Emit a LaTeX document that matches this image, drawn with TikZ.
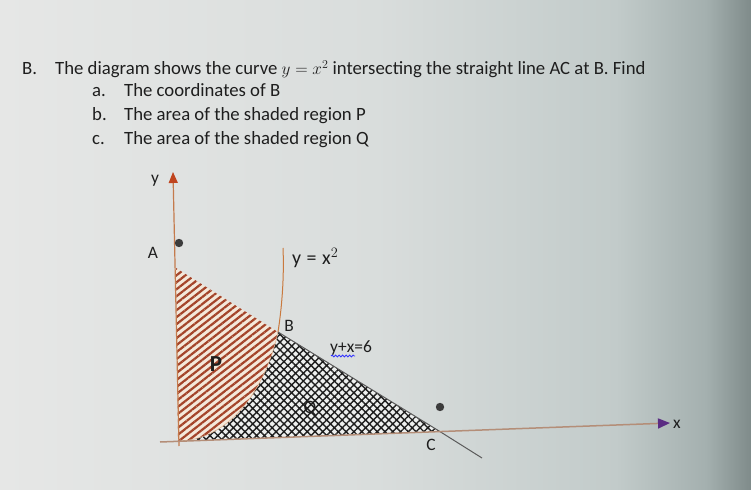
\documentclass[tikz,border=0pt]{standalone}
\usepackage{fontspec}
\setmainfont{Carlito}
\usetikzlibrary{arrows.meta,patterns.meta,decorations.pathmorphing}

\definecolor{bgA}{HTML}{E6E7E6}
\definecolor{bgB}{HTML}{D9DDDC}
\definecolor{bgC}{HTML}{C2CBCA}
\definecolor{bgD}{HTML}{A4B0AF}
\definecolor{bgE}{HTML}{7F8B8A}
\definecolor{axisbrown}{HTML}{B48E78}
\definecolor{yaxisorange}{HTML}{C47A4C}
\definecolor{arrowred}{HTML}{C0441E}
\definecolor{arrowpurple}{HTML}{5B2C83}
\definecolor{stripe}{HTML}{A4442A}
\definecolor{cream}{HTML}{F4E8DA}
\definecolor{curveorange}{HTML}{C9793E}
\definecolor{lineg}{HTML}{5A5A5A}
\definecolor{hatchbg}{HTML}{EEF0EF}
\definecolor{dotgrey}{HTML}{3C3C3C}
\definecolor{inkblack}{HTML}{1E1E1E}

\pgfdeclarehorizontalshading{screenbg}{100bp}{color(0bp)=(bgA); color(25bp)=(bgA); color(50bp)=(bgB); color(66bp)=(bgC); color(72bp)=(bgD); color(75bp)=(bgE); color(100bp)=(bgE)}

\begin{document}
\begin{tikzpicture}[x=1bp,y=-1bp,
  qtext/.style={anchor=base west,inner sep=0pt,font=\fontsize{18.8}{22}\selectfont,text=inkblack},
  lbl/.style={inner sep=0pt,font=\fontsize{17.5}{20}\selectfont,text=inkblack},
  dotpt/.style={fill=dotgrey}]
\shade[shading=screenbg] (0,0) rectangle (751,490);
\useasboundingbox (0,0) rectangle (751,490);

% question text
\path (22,75) node[qtext] (qB) {B.};
\path (55,75) node[qtext] (qline) {The diagram shows the curve $y = x^2$ intersecting the straight line AC at B. Find};
\path (92,97) node[qtext] (qa) {a.};
\path (124,97) node[qtext] (qaT) {The coordinates of B};
\path (92,121) node[qtext] (qb) {b.};
\path (124,121) node[qtext] (qbT) {The area of the shaded region P};
\path (92,145) node[qtext] (qc) {c.};
\path (124,145) node[qtext] (qcT) {The area of the shaded region Q};

% points of the graph
\coordinate (O) at (178,441);
\coordinate (A) at (176,268);
\coordinate (B) at (278,332);
\coordinate (C) at (440,431.6);
\coordinate (Cend) at (482,458);
\coordinate (Ctop) at (283,248);
\coordinate (ybot) at (179,446);
\coordinate (ytop) at (173,172);
\coordinate (xleft) at (160,442);
\coordinate (xright) at (670,423);

% region P
\fill[cream] (A) -- (B) .. controls (268,380) and (235,440) .. (O) -- cycle;
\fill[pattern={Lines[angle=38,distance=5.5bp,line width=2.2bp]},pattern color=stripe]
  (A) -- (B) .. controls (268,380) and (235,440) .. (O) -- cycle;
% region Q
\fill[hatchbg] (B) -- (C) -- (O) .. controls (235,440) and (268,380) .. (B);
\fill[pattern={Hatch[angle=45,distance=5.5bp,line width=1.4bp]},pattern color=inkblack]
  (B) -- (C) -- (O) .. controls (235,440) and (268,380) .. (B);

% curve and line
\draw[curveorange!60,line width=0.5bp] (O) .. controls (235,440) and (268,380) .. (B);
\draw[curveorange,line width=1bp] (B) .. controls (283,300) and (284,270) .. (Ctop);
\draw[lineg,line width=1bp] (B) -- (C) -- (Cend);

% axes
\draw[yaxisorange,line width=1.2bp,-{Triangle[length=11bp,width=9bp,fill=arrowred,color=arrowred]}] (ybot) -- (ytop);
\draw[axisbrown,line width=1.5bp,-{Triangle[length=12bp,width=10bp,fill=arrowpurple,color=arrowpurple]}] (xleft) -- (xright);

% dots
\fill[dotpt] (179,243) circle (4.2);
\fill[dotpt] (440,407) circle (4.2);

% labels
\path (155,181) node[lbl] (ly) {y};
\path (153,253) node[lbl] (lA) {A};
\path (289,326) node[lbl] (lB) {B};
\path (431,445) node[lbl] (lC) {C};
\path (677,424) node[lbl] (lx) {x};
\path (292,265) node[lbl,anchor=base west,font=\fontsize{20}{22}\selectfont] (lcurve) {y\;=\;x$^{2}$};
\path (330,352) node[lbl,anchor=base west] (lline) {y+x=6};
\draw[blue!80,line width=0.8bp,decorate,decoration={snake,segment length=3.5bp,amplitude=1bp}]
  (331,356) -- (355,356);
\path (216,364) node[lbl,font=\fontsize{23}{24}\selectfont\bfseries] (lP) {P};
\path (310,409) node[lbl,font=\fontsize{19}{20}\selectfont] (lQ) {Q};
\end{tikzpicture}
\end{document}
